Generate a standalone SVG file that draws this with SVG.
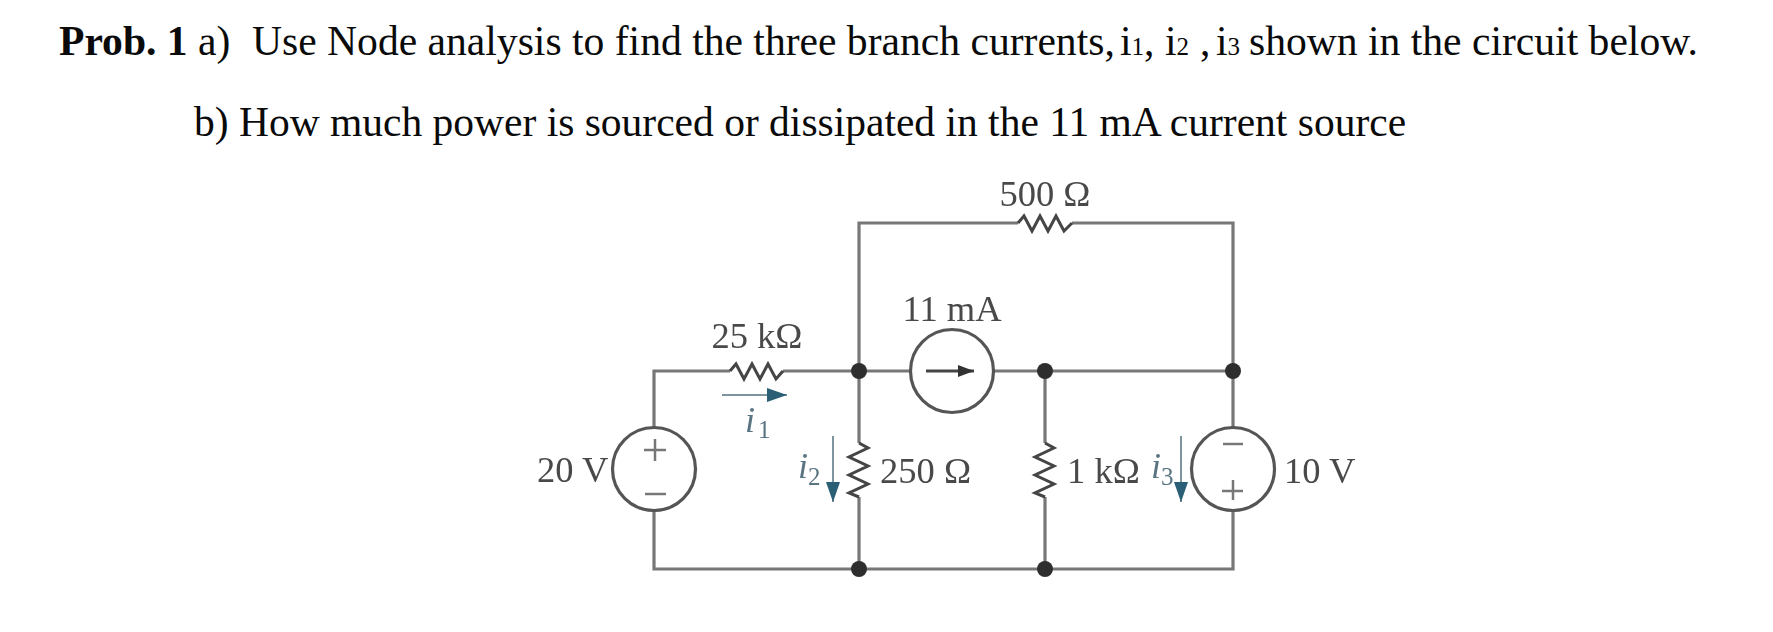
<svg xmlns="http://www.w3.org/2000/svg" width="1773" height="632" viewBox="0 0 1773 632">
<style>
text{font-family:"Liberation Serif","Times New Roman",serif}
.t{font-size:41.6px;fill:#0a0a0a}
.t2{font-size:41.5px}
.b{font-weight:bold}
.u{font-size:25px}
.c{font-size:36.5px;fill:#4a4a4a}
.i{font-size:36px;font-style:italic;fill:#5a7482}
.s{font-size:25px;font-style:normal}
.w{fill:none;stroke:#777;stroke-width:3.2}
.r{fill:none;stroke:#444;stroke-width:3}
.src{fill:#fff;stroke:#555;stroke-width:3.2}
.m{fill:none;stroke:#777;stroke-width:2.5}
.a{fill:none;stroke:#7d959f;stroke-width:2}
.d{fill:#2e2e2e}
.soft{filter:url(#soft)}
</style>
<defs>
<filter id="soft" x="-2%" y="-2%" width="104%" height="104%"><feGaussianBlur stdDeviation="0.6"/></filter>
<marker id="ah" markerUnits="userSpaceOnUse" markerWidth="22" markerHeight="14" refX="20" refY="7" orient="auto"><path d="M0 0L20 7L0 14Z" fill="#2a5f75"/></marker>
<marker id="ak" markerUnits="userSpaceOnUse" markerWidth="18" markerHeight="12" refX="16" refY="6" orient="auto"><path d="M0 0L16 6L0 12Z" fill="#333"/></marker>
</defs>
<rect width="1773" height="632" fill="#fff"/>
<g id="problem-text">
<text class="t" y="55"><tspan class="b" x="59">Prob. 1</tspan><tspan x="198">a)</tspan><tspan x="252">Use Node analysis to find the three branch currents,</tspan><tspan x="1120">i</tspan><tspan class="u">1</tspan><tspan>,</tspan><tspan x="1165">i</tspan><tspan class="u">2</tspan><tspan x="1200">,</tspan><tspan x="1216">i</tspan><tspan class="u">3</tspan><tspan x="1249">shown in the circuit below.</tspan></text>
<text class="t t2" x="194" y="136">b) How much power is sourced or dissipated in the 11 mA current source</text>
</g>
<g class="soft">
<g id="connectors">
<path class="w" d="M654 428V371H730M783 371H911M993 371H1233M859 371V223H1018M1072 223H1233V428M859 371V443M859 497V569M1045 371V443M1045 497V569M654 511V569H1233V511"/>
</g>
<g id="r-500"><path class="r" d="M1018 223l6-7l8 15l8-15l8 15l8-15l8 15l8-8"/><text class="c" x="1045" y="206" text-anchor="middle">500 Ω</text></g>
<g id="r-25k"><path class="r" d="M730 371l6-7l8 15l8-15l8 15l8-15l8 15l7-8"/><text class="c" x="757" y="348" text-anchor="middle">25 kΩ</text></g>
<g id="r-250"><path class="r" d="M859 443l9 5l-19 9l19 9l-19 9l19 9l-19 9l10 4"/><text class="c" x="880" y="483">250 Ω</text></g>
<g id="r-1k"><path class="r" d="M1045 443l9 5l-19 9l19 9l-19 9l19 9l-19 9l10 4"/><text class="c" x="1067" y="483">1 kΩ</text></g>
<g id="source-20v"><circle class="src" cx="654" cy="469" r="41.5"/><path class="m" d="M644 450h22M655 439v22M645 494h21"/><text class="c" x="537" y="482">20 V</text></g>
<g id="source-10v"><circle class="src" cx="1233" cy="469" r="41.5"/><path class="m" d="M1223 444h20M1222 491h21M1233 480v20"/><text class="c" x="1284" y="483">10 V</text></g>
<g id="source-11ma"><circle class="src" cx="952" cy="371" r="41.5"/><path class="r" d="M926 371h48" marker-end="url(#ak)"/><text class="c" x="952" y="321" text-anchor="middle">11 mA</text></g>
<g id="i1"><path class="a" d="M722 395h65" marker-end="url(#ah)"/><text class="i" x="745" y="432">i<tspan class="s" dx="3" dy="6">1</tspan></text></g>
<g id="i2"><path class="a" d="M833 436v66" marker-end="url(#ah)"/><text class="i" x="798" y="478">i<tspan class="s" dy="7">2</tspan></text></g>
<g id="i3"><path class="a" d="M1181 436v66" marker-end="url(#ah)"/><text class="i" x="1151" y="478">i<tspan class="s" dy="7">3</tspan></text></g>
<g id="junctions"><circle class="d" cx="859" cy="371" r="8"/><circle class="d" cx="1045" cy="371" r="8"/><circle class="d" cx="1233" cy="371" r="8"/><circle class="d" cx="859" cy="569" r="8"/><circle class="d" cx="1045" cy="569" r="8"/></g>
</g>
</svg>
